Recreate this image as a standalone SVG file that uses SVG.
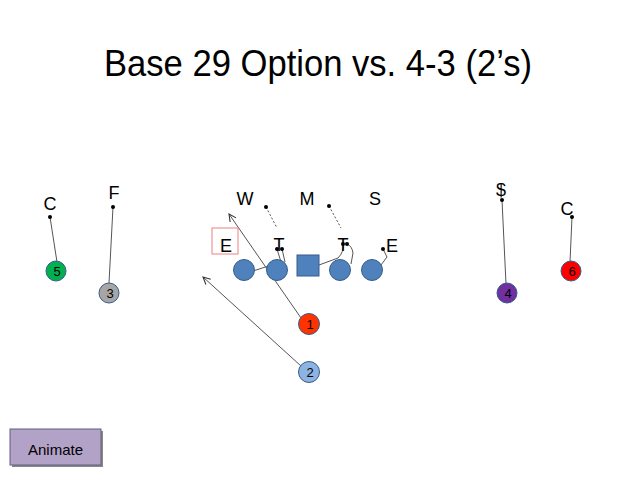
<svg xmlns="http://www.w3.org/2000/svg" width="638" height="478" viewBox="0 0 638 478">
<defs>
<marker id="arr" viewBox="0 0 10 10" refX="9" refY="5" markerWidth="9" markerHeight="9" markerUnits="userSpaceOnUse" orient="auto">
<path d="M1,1 L9,5 L1,9" fill="none" stroke="#333" stroke-width="1.2"/>
</marker>
<style>
.t{font-family:"Liberation Sans",Arial,sans-serif;fill:#000}
.d{font-size:18px;text-anchor:middle}
.n{font-size:13px;text-anchor:middle}
.ln{stroke:#555;stroke-width:1;fill:none}
.ol{fill:#4f81bd;stroke:#385d8a;stroke-width:1}
.pl{stroke:#385d8a;stroke-width:1}
.dot{fill:#000}
</style>
</defs>
<rect width="638" height="478" fill="#fff"/>
<text class="t" x="318" y="76" font-size="36" text-anchor="middle" textLength="428" lengthAdjust="spacingAndGlyphs">Base 29 Option vs. 4-3 (2’s)</text>

<g id="connectors">
<line class="ln" x1="57" y1="262" x2="50" y2="217"/>
<line class="ln" x1="109" y1="283" x2="113" y2="207"/>
<line class="ln" x1="506" y1="284" x2="502" y2="200"/>
<line class="ln" x1="570" y1="262" x2="572" y2="217"/>
<line class="ln" x1="266" y1="207" x2="277" y2="228" stroke-dasharray="2,2"/>
<line class="ln" x1="329" y1="206" x2="341" y2="228" stroke-dasharray="2,2"/>
<polyline class="ln" points="253,271 281,262 277,249"/>
<polyline class="ln" points="285,262 282,249"/>
<path class="ln" d="M319,265 L338,258 Q344,252 343,244"/>
<path class="ln" d="M351,264 L353,253 Q352,246 347,244"/>
<polyline class="ln" points="381,265 387,257 383,249"/>
<line class="ln" x1="301" y1="318" x2="229" y2="214" marker-end="url(#arr)"/>
<line class="ln" x1="301" y1="366" x2="203" y2="277" marker-end="url(#arr)"/>
</g>

<g id="dots">
<circle class="dot" cx="50" cy="217" r="2"/>
<circle class="dot" cx="113" cy="207" r="2"/>
<circle class="dot" cx="502" cy="200" r="2"/>
<circle class="dot" cx="572" cy="217" r="2"/>
<circle class="dot" cx="266" cy="207" r="2"/>
<circle class="dot" cx="329" cy="206" r="2"/>
<circle class="dot" cx="277" cy="249" r="2"/>
<circle class="dot" cx="282" cy="249" r="2"/>
<circle class="dot" cx="343" cy="244" r="2"/>
<circle class="dot" cx="347" cy="244" r="2"/>
<circle class="dot" cx="383" cy="249" r="2"/>
</g>

<g id="defense">
<text class="t d" x="50" y="210">C</text>
<text class="t d" x="114" y="199">F</text>
<text class="t d" x="501" y="196">$</text>
<text class="t d" x="567" y="215">C</text>
<text class="t d" x="245" y="205">W</text>
<text class="t d" x="307" y="205">M</text>
<text class="t d" x="375" y="205">S</text>
<rect x="212" y="228" width="26" height="26" fill="none" stroke="#f08080" stroke-width="1"/>
<text class="t d" x="226" y="252">E</text>
<text class="t d" x="279" y="251">T</text>
<text class="t d" x="343" y="251">T</text>
<text class="t d" x="392" y="252">E</text>
</g>

<g id="oline">
<circle class="ol" cx="244" cy="270" r="10.5"/>
<circle class="ol" cx="277" cy="270" r="10.5"/>
<rect class="ol" x="297" y="255" width="22" height="21"/>
<circle class="ol" cx="340" cy="270" r="10.5"/>
<circle class="ol" cx="372" cy="270" r="10.5"/>
</g>

<g id="p5"><circle class="pl" cx="56" cy="271" r="10" fill="#00b050"/><text class="t n" x="57" y="276">5</text></g>
<g id="p3"><circle class="pl" cx="109" cy="293" r="10" fill="#a6a6a6"/><text class="t n" x="110" y="298">3</text></g>
<g id="p4"><circle class="pl" cx="507" cy="293" r="10" fill="#7030a0"/><text class="t n" x="508" y="298">4</text></g>
<g id="p6"><circle class="pl" cx="571" cy="271" r="10" fill="#ff0000"/><text class="t n" x="572" y="276">6</text></g>
<g id="p1"><circle class="pl" cx="309" cy="324" r="10.5" fill="#ff3300"/><text class="t n" x="310" y="329">1</text></g>
<g id="p2"><circle class="pl" cx="309" cy="372" r="10.5" fill="#8db3e2"/><text class="t n" x="310" y="377">2</text></g>

<g id="animate">
<rect x="12" y="431" width="91" height="36" fill="#888"/>
<rect x="10" y="429" width="91" height="36" fill="#b3a2c7" stroke="#5f5f7f" stroke-width="1"/>
<text class="t" x="55.5" y="455" font-size="15" text-anchor="middle">Animate</text>
</g>
</svg>
